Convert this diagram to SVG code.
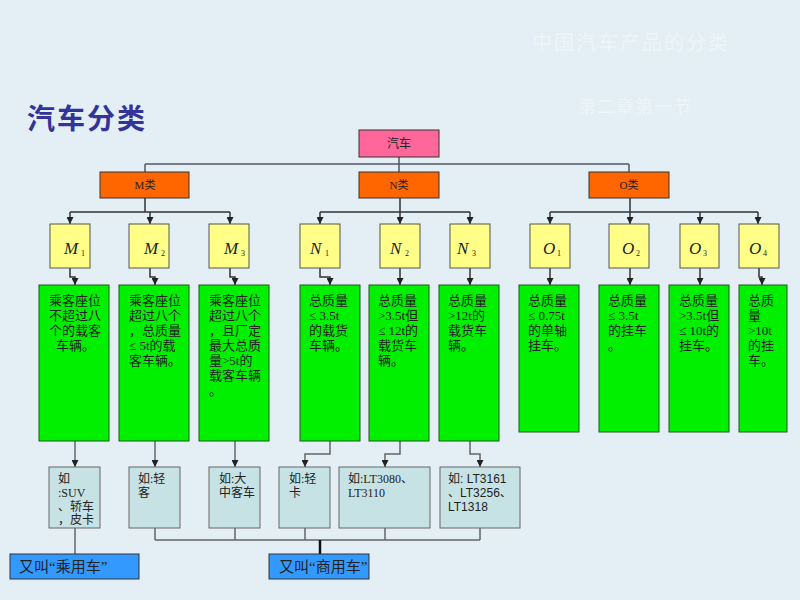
<svg xmlns="http://www.w3.org/2000/svg" width="800" height="600" viewBox="0 0 800 600">
<defs>
<marker id="arr" viewBox="0 0 10 10" refX="10" refY="5" markerWidth="7" markerHeight="7" orient="auto" markerUnits="userSpaceOnUse">
<path d="M0,0 L10,5 L0,10 z" fill="#222"/>
</marker>
<style>
.bg{fill:#E3EFF5}
.conn{fill:none;stroke:#333;stroke-width:1.5}
.connt{fill:none;stroke:#556;stroke-width:1.5}
.connb{fill:none;stroke:#666;stroke-width:1.5}
.arrow{marker-end:url(#arr)}
.pink{fill:#FF6699;stroke:#333;stroke-width:1}
.orange{fill:#FF6600;stroke:#333;stroke-width:1}
.yellow{fill:#FFFF88;stroke:#555;stroke-width:1}
.green{fill:#00F000;stroke:#225522;stroke-width:1}
.ex{fill:#C6E2E4;stroke:#666;stroke-width:1}
.blue{fill:#3399FF;stroke:#333;stroke-width:1}
.cn{font-family:"Liberation Serif","Noto Sans CJK SC",serif;fill:#222}
.sm{font-size:11px}
.gt{font-size:13px}
.et{font-size:12px}
.sans{font-family:"Liberation Sans","Noto Sans CJK SC",sans-serif}
.lab{font-family:"Liberation Serif",serif;font-style:italic;font-size:17px;fill:#222}
.sub{font-family:"Liberation Serif",serif;font-size:8px;fill:#222}
.bt{font-size:15px}
.faint{font-family:"Noto Sans CJK SC",sans-serif;fill:#FFFFFF;opacity:0.4}
</style>
</defs>
<rect class="bg" x="0" y="0" width="800" height="600"/>
<text class="faint" x="532" y="50" font-size="20" letter-spacing="2">中国汽车产品的分类</text>
<text class="faint" x="578" y="113" font-size="18" letter-spacing="1">第二章第一节</text>
<text x="27" y="129" font-family="Noto Sans CJK SC, sans-serif" font-weight="bold" font-size="28" fill="#333399" letter-spacing="2">汽车分类</text>

<g id="connectors">
<path class="connt" d="M399,157 V172 M145,164 H629 M145,164 V172 M629,164 V172"/>
<path class="conn" d="M145,198 V212 M70,212 H230"/>
<path class="conn arrow" d="M70,212 V224"/>
<path class="conn arrow" d="M150,212 V224"/>
<path class="conn arrow" d="M230,212 V224"/>
<path class="conn" d="M400,198 V212 M320,212 H470"/>
<path class="conn arrow" d="M320,212 V224"/>
<path class="conn arrow" d="M400,212 V224"/>
<path class="conn arrow" d="M470,212 V224"/>
<path class="conn" d="M630,198 V212 M550,212 H758"/>
<path class="conn arrow" d="M550,212 V224"/>
<path class="conn arrow" d="M630,212 V224"/>
<path class="conn arrow" d="M700,212 V224"/>
<path class="conn arrow" d="M758,212 V224"/>
<path class="conn arrow" d="M70,268 V277 H75 V285"/>
<path class="conn arrow" d="M150,268 V277 H155 V285"/>
<path class="conn arrow" d="M230,268 V277 H235 V285"/>
<path class="conn arrow" d="M320,268 V277 H330 V285"/>
<path class="conn arrow" d="M400,268 V285"/>
<path class="conn arrow" d="M470,268 V285"/>
<path class="conn arrow" d="M550,268 V285"/>
<path class="conn arrow" d="M630,268 V285"/>
<path class="conn arrow" d="M700,268 V285"/>
<path class="conn arrow" d="M759,268 V277 H762 V285"/>
<path class="connb arrow" d="M75,441 V467"/>
<path class="connb arrow" d="M155,441 V467"/>
<path class="connb arrow" d="M235,441 V467"/>
<path class="connb arrow" d="M330,441 V454 H305 V467"/>
<path class="connb arrow" d="M400,441 V454 H385 V467"/>
<path class="connb arrow" d="M470,441 V454 H480 V467"/>
<path class="connb" d="M75,528 V554"/>
<path class="connb" d="M155,528 V540 M235,528 V540 M305,528 V540 M385,528 V540 M480,528 V540 M155,540 H480"/>
<path d="M320,540 V554" fill="none" stroke="#111" stroke-width="2.5"/>
</g>

<g id="n-car"><rect class="pink" x="359" y="130" width="80" height="27"/><text class="cn" x="399" y="148" font-size="12" text-anchor="middle">汽车</text></g>
<g id="n-M"><rect class="orange" x="100" y="172" width="89" height="26"/><text class="cn sm" x="145" y="189" text-anchor="middle">M类</text></g>
<g id="n-N"><rect class="orange" x="359" y="172" width="80" height="26"/><text class="cn sm" x="399" y="189" text-anchor="middle">N类</text></g>
<g id="n-O"><rect class="orange" x="589" y="172" width="80" height="26"/><text class="cn sm" x="629" y="189" text-anchor="middle">O类</text></g>

<g id="n-M1"><rect class="yellow" x="50" y="224" width="40" height="44"/><text class="lab" x="64" y="254">M</text><text class="sub" x="81" y="256">1</text></g>
<g id="n-M2"><rect class="yellow" x="129" y="224" width="40" height="44"/><text class="lab" x="144" y="254">M</text><text class="sub" x="161" y="256">2</text></g>
<g id="n-M3"><rect class="yellow" x="209" y="224" width="40" height="44"/><text class="lab" x="224" y="254">M</text><text class="sub" x="241" y="256">3</text></g>
<g id="n-N1"><rect class="yellow" x="300" y="224" width="40" height="44"/><text class="lab" x="310" y="254">N</text><text class="sub" x="325" y="256">1</text></g>
<g id="n-N2"><rect class="yellow" x="380" y="224" width="40" height="44"/><text class="lab" x="390" y="254">N</text><text class="sub" x="405" y="256">2</text></g>
<g id="n-N3"><rect class="yellow" x="450" y="224" width="40" height="44"/><text class="lab" x="457" y="254">N</text><text class="sub" x="472" y="256">3</text></g>
<g id="n-O1"><rect class="yellow" x="530" y="224" width="40" height="44"/><text class="lab" x="543" y="254">O</text><text class="sub" x="557" y="256">1</text></g>
<g id="n-O2"><rect class="yellow" x="609" y="224" width="40" height="44"/><text class="lab" x="622" y="254">O</text><text class="sub" x="636" y="256">2</text></g>
<g id="n-O3"><rect class="yellow" x="680" y="224" width="39" height="44"/><text class="lab" x="689" y="254">O</text><text class="sub" x="703" y="256">3</text></g>
<g id="n-O4"><rect class="yellow" x="739" y="224" width="40" height="44"/><text class="lab" x="749" y="254">O</text><text class="sub" x="763" y="256">4</text></g>

<g id="n-gM1"><rect class="green" x="39" y="285" width="70" height="156"/>
<text class="cn gt"><tspan x="49" y="305">乘客座位</tspan><tspan x="49" y="320">不超过八</tspan><tspan x="49" y="335">个的载客</tspan><tspan x="56" y="350">车辆。</tspan></text></g>
<g id="n-gM2"><rect class="green" x="119" y="285" width="70" height="156"/>
<text class="cn gt"><tspan x="129" y="305">乘客座位</tspan><tspan x="129" y="320">超过八个</tspan><tspan x="129" y="335">，总质量</tspan><tspan x="129" y="350">≤ 5t的载</tspan><tspan x="129" y="365">客车辆。</tspan></text></g>
<g id="n-gM3"><rect class="green" x="199" y="285" width="70" height="156"/>
<text class="cn gt"><tspan x="209" y="305">乘客座位</tspan><tspan x="209" y="320">超过八个</tspan><tspan x="209" y="335">，且厂定</tspan><tspan x="209" y="350">最大总质</tspan><tspan x="209" y="365">量&gt;5t的</tspan><tspan x="209" y="380">载客车辆</tspan><tspan x="209" y="395">。</tspan></text></g>
<g id="n-gN1"><rect class="green" x="300" y="285" width="60" height="156"/>
<text class="cn gt"><tspan x="309" y="305">总质量</tspan><tspan x="309" y="320">≤ 3.5t</tspan><tspan x="309" y="335">的载货</tspan><tspan x="309" y="350">车辆。</tspan></text></g>
<g id="n-gN2"><rect class="green" x="369" y="285" width="60" height="156"/>
<text class="cn gt"><tspan x="378" y="305">总质量</tspan><tspan x="378" y="320">&gt;3.5t但</tspan><tspan x="378" y="335">≤ 12t的</tspan><tspan x="378" y="350">载货车</tspan><tspan x="378" y="365">辆。</tspan></text></g>
<g id="n-gN3"><rect class="green" x="439" y="285" width="60" height="156"/>
<text class="cn gt"><tspan x="448" y="305">总质量</tspan><tspan x="448" y="320">&gt;12t的</tspan><tspan x="448" y="335">载货车</tspan><tspan x="448" y="350">辆。</tspan></text></g>
<g id="n-gO1"><rect class="green" x="519" y="285" width="60" height="147"/>
<text class="cn gt"><tspan x="528" y="305">总质量</tspan><tspan x="528" y="320">≤ 0.75t</tspan><tspan x="528" y="335">的单轴</tspan><tspan x="528" y="350">挂车。</tspan></text></g>
<g id="n-gO2"><rect class="green" x="599" y="285" width="60" height="147"/>
<text class="cn gt"><tspan x="608" y="305">总质量</tspan><tspan x="608" y="320">≤ 3.5t</tspan><tspan x="608" y="335">的挂车</tspan><tspan x="608" y="350">。</tspan></text></g>
<g id="n-gO3"><rect class="green" x="669" y="285" width="60" height="147"/>
<text class="cn gt"><tspan x="679" y="305">总质量</tspan><tspan x="679" y="320">&gt;3.5t但</tspan><tspan x="679" y="335">≤ 10t的</tspan><tspan x="679" y="350">挂车。</tspan></text></g>
<g id="n-gO4"><rect class="green" x="739" y="285" width="48" height="147"/>
<text class="cn gt"><tspan x="748" y="305">总质</tspan><tspan x="748" y="320">量</tspan><tspan x="748" y="335">&gt;10t</tspan><tspan x="748" y="350">的挂</tspan><tspan x="748" y="365">车。</tspan></text></g>

<g id="n-e1"><rect class="ex" x="49" y="467" width="51" height="61"/>
<text class="cn et"><tspan x="58" y="483">如</tspan><tspan x="58" y="497">:SUV</tspan><tspan x="58" y="511">、轿车</tspan><tspan x="58" y="524">，皮卡</tspan></text></g>
<g id="n-e2"><rect class="ex" x="129" y="467" width="51" height="61"/>
<text class="cn et"><tspan x="138" y="483">如:轻</tspan><tspan x="138" y="497">客</tspan></text></g>
<g id="n-e3"><rect class="ex" x="209" y="467" width="51" height="61"/>
<text class="cn et"><tspan x="219" y="483">如:大</tspan><tspan x="219" y="497">中客车</tspan></text></g>
<g id="n-e4"><rect class="ex" x="279" y="467" width="51" height="61"/>
<text class="cn et"><tspan x="289" y="483">如:轻</tspan><tspan x="289" y="497">卡</tspan></text></g>
<g id="n-e5"><rect class="ex" x="339" y="467" width="91" height="61"/>
<text class="cn et"><tspan x="348" y="483">如:LT3080、</tspan><tspan x="348" y="497">LT3110</tspan></text></g>
<g id="n-e6"><rect class="ex" x="440" y="467" width="80" height="61"/>
<text class="cn et sans"><tspan x="448" y="483">如: LT3161</tspan><tspan x="448" y="497">、LT3256、</tspan><tspan x="448" y="511">LT1318</tspan></text></g>

<g id="n-passenger"><rect class="blue" x="10" y="554" width="129" height="25"/><text class="cn bt" x="19" y="572">又叫“乘用车”</text></g>
<g id="n-commercial"><rect class="blue" x="269" y="554" width="100" height="25"/><text class="cn bt" x="279" y="572">又叫“商用车”</text></g>
</svg>
